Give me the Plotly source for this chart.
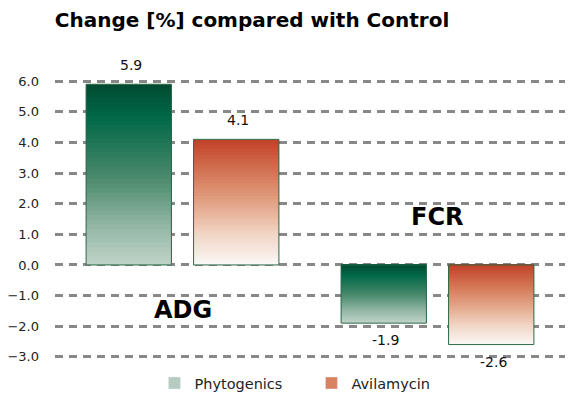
import plotly.graph_objects as go

# data
categories = ["ADG", "FCR"]
series_names = ["Phytogenics", "Avilamycin"]
phyto_values = [5.9, -1.9]
avila_values = [4.1, -2.6]
y_ticks = [-3, -2, -1, 0, 1, 2, 3, 4, 5, 6]

values = {"Phytogenics": phyto_values, "Avilamycin": avila_values}

# gradient stops, from top of the bar (0) to bottom (1)
stops = {
    "Phytogenics": [(0.0, (0, 74, 48)), (0.18, (0, 104, 72)), (0.5, (70, 135, 105)),
                    (0.8, (150, 185, 167)), (1.0, (192, 212, 201))],
    "Avilamycin": [(0.0, (194, 64, 40)), (0.25, (210, 115, 82)), (0.5, (226, 162, 132)),
                   (0.75, (241, 212, 196)), (1.0, (251, 248, 246))],
}
legend_colors = {"Phytogenics": "#b5cbc0", "Avilamycin": "#d9825f"}
outline = "#2b6a4b"
font_fam = "Verdana, DejaVu Sans, sans-serif"
N = 40

# page body has an 8px margin, so the figure is 8px smaller than the window
W, H = 568, 394
M = dict(l=47, r=11, t=64, b=36)
BARGAP = 0.157


def grad(name, t):
    s = stops[name]
    for (t0, c0), (t1, c1) in zip(s[:-1], s[1:]):
        if t0 <= t <= t1:
            f = (t - t0) / (t1 - t0)
            c = [round(a + (b - a) * f) for a, b in zip(c0, c1)]
            return "rgb(%d,%d,%d)" % tuple(c)
    return "rgb(%d,%d,%d)" % s[-1][1]


fig = go.Figure()

for name in series_names:
    vals = values[name]
    # gradient: overlapping bars from the zero line, longest first,
    # so each one shows only its own band (no seams)
    for k in range(N - 1, -1, -1):
        cols = []
        for v in vals:
            t = (N - 1 - k + 0.5) / N if v >= 0 else (k + 0.5) / N
            cols.append(grad(name, t))
        fig.add_trace(go.Bar(
            x=categories, y=[v * (k + 1) / N for v in vals],
            offsetgroup=name, marker=dict(color=cols, line=dict(width=0)),
            showlegend=False, hoverinfo="skip"))
    # outline
    fig.add_trace(go.Bar(
        x=categories, y=vals, offsetgroup=name, name=name, showlegend=False,
        marker=dict(color="rgba(0,0,0,0)", line=dict(color=outline, width=1))))
    # legend entry
    fig.add_trace(go.Bar(
        x=categories, y=[None, None], offsetgroup=name, name=name,
        marker=dict(color=legend_colors[name])))

# value labels, placed over the centre of each bar with a little gap
cat_px = (W - M["l"] - M["r"]) / len(categories)
slot_px = cat_px * (1 - BARGAP) / len(series_names)
for i, name in enumerate(series_names):
    dx = (i - (len(series_names) - 1) / 2) * slot_px
    for cat, v in zip(categories, values[name]):
        fig.add_annotation(
            x=cat, y=v, xshift=dx + 2, text="%.1f" % v, showarrow=False,
            yanchor="bottom" if v >= 0 else "top", yshift=9 if v >= 0 else -7,
            font=dict(size=14, color="#111111", family=font_fam))

fig.add_annotation(x="ADG", y=-1.47, text="<b>ADG</b>", showarrow=False,
                   font=dict(size=24, color="#000000", family=font_fam))
fig.add_annotation(x="FCR", y=1.57, text="<b>FCR</b>", showarrow=False,
                   font=dict(size=24, color="#000000", family=font_fam))

fig.update_layout(
    width=W, height=H,
    margin=dict(**M, autoexpand=False),
    paper_bgcolor="white", plot_bgcolor="white",
    barmode="group", bargap=BARGAP, bargroupgap=0.206,
    title=dict(text="<b>Change [%] compared with Control</b>", x=0.4296, xanchor="center",
               y=0.969, yanchor="middle",
               font=dict(size=20, color="#000000", family="Tahoma, DejaVu Sans, sans-serif")),
    xaxis=dict(showticklabels=False, showgrid=False, zeroline=False, showline=False,
               range=[-0.5, 1.5]),
    yaxis=dict(range=[-3.3, 6.3], tickvals=y_ticks, tickformat=".1f",
               showgrid=True, gridcolor="#888888", gridwidth=3, griddash="8px,6px",
               zeroline=False, showline=False, ticks="", ticklabelstandoff=15,
               tickfont=dict(size=13, color="#222222", family=font_fam)),
    legend=dict(orientation="h", x=0.195, xanchor="left", y=-0.058, yanchor="middle",
                font=dict(size=14.5, color="#222222", family=font_fam),
                traceorder="normal", entrywidth=112),
    showlegend=True,
)

fig.write_html("out.html")
